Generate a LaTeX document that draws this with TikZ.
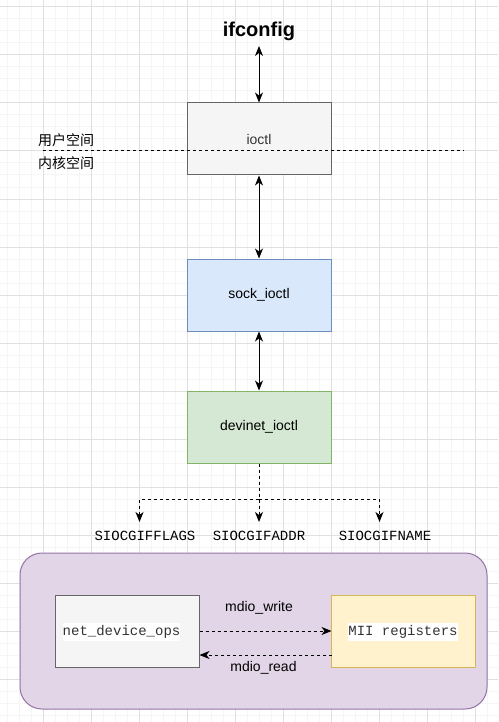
\documentclass[tikz,border=0pt]{standalone}
\usepackage{fontspec}
\setmainfont{Liberation Sans}
\setmonofont{Liberation Mono}
\newfontfamily\cjk{Noto Sans CJK SC}
\usetikzlibrary{arrows.meta}
\definecolor{gridmaj}{HTML}{E0E0E0}
\definecolor{gridmin}{HTML}{F5F5F5}
\definecolor{grayfill}{HTML}{F5F5F5}
\definecolor{graydraw}{HTML}{666666}
\definecolor{txt}{HTML}{333333}
\definecolor{bluefill}{HTML}{DAE8FC}
\definecolor{bluedraw}{HTML}{6C8EBF}
\definecolor{greenfill}{HTML}{D5E8D4}
\definecolor{greendraw}{HTML}{82B366}
\definecolor{purplefill}{HTML}{E1D5E7}
\definecolor{purpledraw}{HTML}{9673A6}
\definecolor{yellowfill}{HTML}{FFF2CC}
\definecolor{yellowdraw}{HTML}{D6B656}
\tikzset{
  boxstyle/.style={draw, line width=1pt, minimum width=144pt, minimum height=72pt, inner sep=0pt, font=\fontsize{14}{16}\selectfont},
  graybox/.style={boxstyle, fill=grayfill, draw=graydraw, text=txt},
  bluebox/.style={boxstyle, fill=bluefill, draw=bluedraw},
  greenbox/.style={boxstyle, fill=greenfill, draw=greendraw},
  yellowbox/.style={boxstyle, fill=yellowfill, draw=yellowdraw},
  tip/.style={Stealth[length=10pt,width=8pt,inset=3pt]},
  biarrow/.style={line width=1pt, {Stealth[length=10pt,width=8pt,inset=3pt]}-{Stealth[length=10pt,width=8pt,inset=3pt]}},
  dasharrow/.style={line width=1pt, dash pattern=on 3pt off 3pt, -{Stealth[length=10pt,width=8pt,inset=3pt]}},
  dashline/.style={line width=1pt, dash pattern=on 3pt off 3pt},
  monolabel/.style={font=\ttfamily\fontsize{14}{16}\selectfont, inner sep=0pt},
  plainlabel/.style={font=\fontsize{14}{16}\selectfont, inner sep=1pt},
  cjklabel/.style={font=\cjk\fontsize{14}{16}\selectfont, inner sep=0pt, anchor=west},
  whitetag/.style={font=\ttfamily\fontsize{14}{16}\selectfont, fill=white, inner xsep=0pt, inner ysep=2pt, text=txt},
}
\begin{document}
\begin{tikzpicture}[x=1pt,y=-1pt]
\useasboundingbox (0,0) rectangle (498,722);
\fill[white] (0,0) rectangle (498,722);
% grid
\foreach \gx in {7,19,...,498} \draw[gridmin, line width=1pt] (\gx,0) -- (\gx,722);
\foreach \gy in {7,19,...,722} \draw[gridmin, line width=1pt] (0,\gy) -- (498,\gy);
\foreach \gx in {43,91,...,498} \draw[gridmaj, line width=1pt] (\gx,0) -- (\gx,722);
\foreach \gy in {7,55,...,722} \draw[gridmaj, line width=1pt] (0,\gy) -- (498,\gy);

% title
\node[font=\bfseries\fontsize{20}{22}\selectfont, inner sep=0pt] (ifc) at (259,31) {ifconfig};
\coordinate (ifcb) at (259,46);

% boxes
\node[graybox] (ioctl) at (259,139) {ioctl};
\node[bluebox] (sock) at (259,295) {sock\_ioctl};
\node[greenbox] (devinet) at (259,427) {devinet\_ioctl};

% user / kernel split
\coordinate (splitL) at (43,151);
\coordinate (splitR) at (464,151);
\draw[dashline] (splitL) -- (splitR);
\node[graybox, draw=none, fill=none] at (259,139) {};
\node[cjklabel] (user) at (38,140) {用户空间};
\node[cjklabel] (kernel) at (38,163) {内核空间};

% arrows
\draw[biarrow] (ifcb) -- (ioctl.north);
\draw[biarrow] (ioctl.south) -- (sock.north);
\draw[biarrow] (sock.south) -- (devinet.north);

% SIOC labels
\node[monolabel] (flags) at (145,536) {SIOCGIFFLAGS};
\node[monolabel] (addr) at (259,536) {SIOCGIFADDR};
\node[monolabel] (name) at (385,536) {SIOCGIFNAME};
\coordinate (fork) at (259,499.5);
\coordinate (forkL) at (139.5,499.5);
\coordinate (forkR) at (379.5,499.5);
\coordinate (tipL) at (139.5,522);
\coordinate (tipM) at (259,522);
\coordinate (tipR) at (379.5,522);
\draw[dashline] (devinet.south) -- (fork);
\draw[dasharrow] (fork) -- (tipM);
\draw[dasharrow] (fork) -- (forkL) -- (tipL);
\draw[dasharrow] (fork) -- (forkR) -- (tipR);

% container
\node[draw=purpledraw, fill=purplefill, line width=1pt, rounded corners=22pt, minimum width=467pt, minimum height=156pt, inner sep=0pt] (cont) at (253.5,631) {};

\node[graybox] (ndo) at (127.5,631.5) {};
\node[whitetag, anchor=west] (ndotag) at (62.5,632) {net\_device\_ops\hspace{10pt}};
\node[yellowbox] (mii) at (403.5,631.5) {};
\node[whitetag] (miitag) at (403,632) {MII registers};

\coordinate (ndoW) at (199.5,631);
\coordinate (miiW) at (331.5,631);
\coordinate (miiR) at (331.5,655);
\coordinate (ndoR) at (199.5,655);
\draw[dasharrow] (ndoW) -- (miiW);
\draw[dasharrow] (miiR) -- (ndoR);
\node[plainlabel] (wlab) at (259,608) {mdio\_write};
\node[plainlabel] (rlab) at (263.5,668) {mdio\_read};
\end{tikzpicture}
\end{document}
